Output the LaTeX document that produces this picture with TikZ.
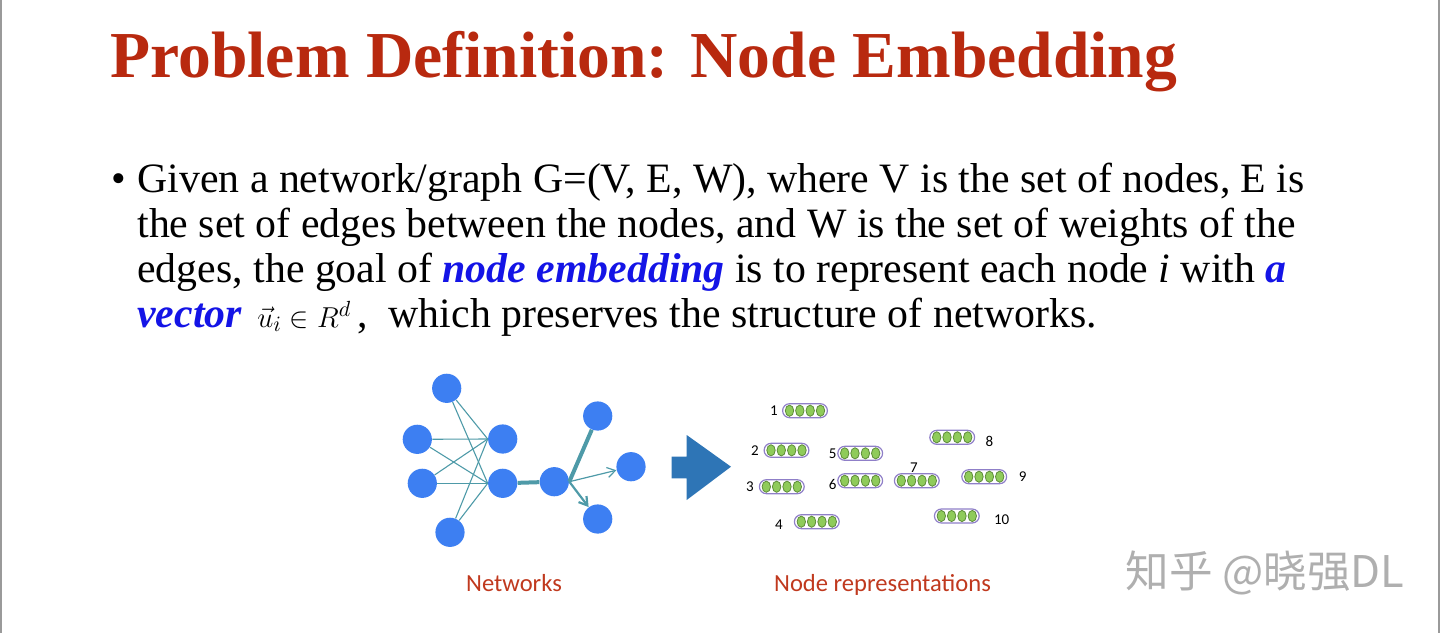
\documentclass[tikz,border=0pt]{standalone}
\usepackage{fontspec}
\setmainfont{Liberation Serif}
\newfontfamily\calibri{Carlito}
\newfontfamily\cjk{Noto Sans CJK SC}
\usepackage{xcolor}
\usepackage{tikz}
\usetikzlibrary{arrows.meta,positioning,shapes.geometric}
\definecolor{TRed}{HTML}{B8290F}
\definecolor{EBlue}{HTML}{1414E6}
\definecolor{NBlue}{HTML}{3D7FF2}
\definecolor{ETeal}{HTML}{4E9AA8}
\definecolor{AFill}{HTML}{2E75B6}
\definecolor{PPurple}{HTML}{8F7FC8}
\definecolor{PGreen}{HTML}{8FCB5A}
\definecolor{PGreenD}{HTML}{5E8C3A}
\definecolor{CRed}{HTML}{C0391E}
\definecolor{WGray}{HTML}{AFAFAF}
\definecolor{BGray}{HTML}{9A9A9A}
\newcommand{\hl}[1]{{\color{EBlue}\bfseries\itshape #1}}

\begin{document}
\begin{tikzpicture}[
  x=0.5pt,y=-0.5pt,
  ttl/.style={anchor=base west,inner sep=0pt,text=TRed,
    font=\fontsize{32.8}{40}\selectfont\bfseries},
  txt/.style={anchor=base west,inner sep=0pt,font=\fontsize{20.9}{24}\selectfont},
  nd/.style={circle,fill=NBlue,minimum size=14.6pt,inner sep=0pt},
  e/.style={ETeal,line width=0.55pt},
  ethick/.style={ETeal,line width=2pt},
  ea/.style={ETeal,-{Straight Barb[length=4pt,width=5pt]}},
  pill/.style={draw=PPurple,line width=0.6pt,rounded corners=3.5pt,fill=white,
    minimum width=22.4pt,minimum height=7pt,inner sep=0pt},
  dot/.style={ellipse,draw=PGreenD,line width=0.4pt,fill=PGreen,
    minimum width=4.2pt,minimum height=5.6pt,inner sep=0pt},
  num/.style={inner sep=0pt,font=\calibri\fontsize{7.5}{9}\selectfont},
  captxt/.style={anchor=base,inner sep=0pt,text=CRed,font=\calibri\fontsize{12.3}{14}\selectfont}
]
  \useasboundingbox (0,0) rectangle (1440,633);
  \draw[BGray,line width=1pt] (1,0) -- (1,633);
  \draw[BGray,line width=1pt] (1439,0) -- (1439,633);

  % title and text
  \node[ttl] (title) at (110,77) {Problem Definition: Node Embedding};
  \node[txt] (bul) at (111,192) {\textbullet};
  \node[txt] (l1) at (137,192) {Given a network/graph G=(V, E, W), where V is the set of nodes, E is};
  \node[txt] (l2) at (137,237) {the set of edges between the nodes, and W is the set of weights of the};
  \node[txt] (l3) at (137,282) {edges, the goal of \hl{node embedding} is to represent each node \textit{i} with \hl{a}};
  \node[txt] (l4) at (137,327) {\hl{vector}};
  \node[txt,font=\fontsize{15}{17}\selectfont] (vec) at (257,327) {$\vec{u}_i \in R^d$};
  \node[txt] (l4b) at (357,327) {,\ \ which preserves the structure of networks.};

  % network
  \node[nd] (n1) at (446.7,388.3) {};
  \node[nd] (n2) at (417.3,439.3) {};
  \node[nd] (n3) at (422.3,483.3) {};
  \node[nd] (n4) at (450,532.3) {};
  \node[nd] (n5) at (502.7,439) {};
  \node[nd] (n6) at (502.7,483.3) {};
  \node[nd] (n7) at (554.3,481.7) {};
  \node[nd] (n8) at (597.7,416) {};
  \node[nd] (n9) at (631,466.7) {};
  \node[nd] (n10) at (597.7,519) {};
  \foreach \s in {n1,n2,n3,n4} {
    \draw[e] (\s) -- (n5.west);
    \draw[e] (\s) -- (n6.west);
  }
  \draw[ethick] (n6) -- (n7);
  \draw[ethick] (n7.east) -- (n8);
  \draw[ea,line width=0.6pt] (n7.east) -- (n9);
  \draw[ea,line width=1.1pt] (n7.east) -- (n10);

  % block arrow
  \fill[AFill] (671.7,456.7) -- (686.7,456.7) -- (686.7,435) -- (731,466.7)
    -- (686.7,500) -- (686.7,478.3) -- (671.7,478.3) -- cycle;

  % node representations
  \foreach \n/\px/\py/\lx/\ly in {1/805/410.7/774/410.7, 2/786.5/450.3/755/450.3,
      3/781.8/486.7/750/486.7, 4/816.8/521.7/779/525, 5/860.2/453.3/832.7/453.3,
      6/860.2/480.7/832.7/484, 7/916.8/480.7/914/467.7, 8/952.2/437.3/989.3/441,
      9/984.2/476.7/1022.7/476.7, 10/956.8/516/1001.7/520} {
    \node[pill] (r\n) at (\px,\py) {};
    \foreach \k/\dx in {1/-15.5,2/-5.2,3/5.2,4/15.5}
      \node[dot] (r\n d\k) at (\px+\dx,\py) {};
    \node[num] (l\n) at (\lx,\ly) {\n};
  }

  % captions
  \node[captxt] (cnet) at (514,591) {Networks};
  \node[captxt] (crep) at (882.5,591) {Node representations};
  \node[anchor=west,inner sep=0pt,text=WGray,font=\cjk\fontsize{21.8}{24}\selectfont]
    (wm) at (1125,573) {知乎 @晓强DL};
\end{tikzpicture}
\end{document}
